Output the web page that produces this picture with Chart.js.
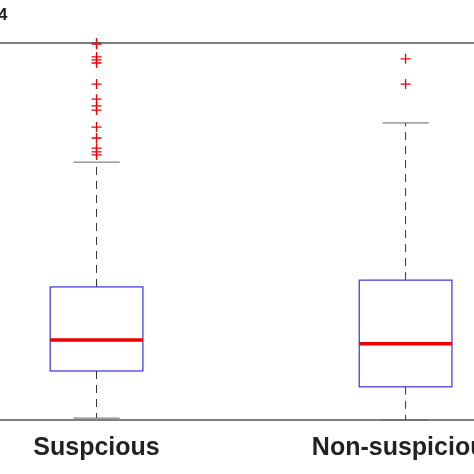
<!DOCTYPE html>
<html><head><meta charset="utf-8">
<script src="https://cdn.jsdelivr.net/npm/chart.js@4"></script>
<style>html,body{margin:0;padding:0;background:#fff}#w{width:474px;height:474px}</style>
</head><body><div id="w"><canvas id="c"></canvas></div>
<script>
const categories = ["Suspcious", "Non-suspicious"];
const q1 = [13.0, 8.8];
const median = [21.2, 20.2];
const q3 = [35.3, 37.1];
const whiskerLow = [0.5, 0];
const whiskerHigh = [68.4, 78.8];
const outliers = [
  [100, 99.7, 96.3, 95.5, 94.7, 89.1, 85.1, 83.3, 82.2, 77.7, 74.8, 72.1, 71.1, 70.3],
  [95.8, 89.1]
];
const outlierPts = [];
outliers.forEach((arr, i) => arr.forEach(v => outlierPts.push({x: i + 1, y: v})));

const boxPlugin = {
  id: 'box',
  afterDatasetsDraw(chart) {
    const ctx = chart.ctx, xs = chart.scales.x, ys = chart.scales.y, a = chart.chartArea;
    ctx.save();
    ctx.strokeStyle = '#555'; ctx.lineWidth = 1.3;
    ctx.beginPath(); ctx.moveTo(0, a.top); ctx.lineTo(chart.width, a.top);
    ctx.moveTo(0, a.bottom); ctx.lineTo(chart.width, a.bottom); ctx.stroke();
    const halfW = xs.getPixelForValue(1.15) - xs.getPixelForValue(1);
    categories.forEach((c, i) => {
      const x = xs.getPixelForValue(i + 1);
      const yq1 = ys.getPixelForValue(q1[i]), yq3 = ys.getPixelForValue(q3[i]);
      const ym = ys.getPixelForValue(median[i]);
      const yl = ys.getPixelForValue(whiskerLow[i]), yh = ys.getPixelForValue(whiskerHigh[i]);
      ctx.setLineDash([8, 6]); ctx.strokeStyle = '#333'; ctx.lineWidth = 1;
      ctx.beginPath(); ctx.moveTo(x, yq3); ctx.lineTo(x, yh); ctx.moveTo(x, yq1); ctx.lineTo(x, yl); ctx.stroke();
      ctx.setLineDash([]); ctx.strokeStyle = '#666';
      ctx.beginPath(); ctx.moveTo(x - halfW / 2, yh); ctx.lineTo(x + halfW / 2, yh);
      ctx.moveTo(x - halfW / 2, yl); ctx.lineTo(x + halfW / 2, yl); ctx.stroke();
      ctx.strokeStyle = '#3333dd'; ctx.lineWidth = 1.2;
      ctx.strokeRect(x - halfW, yq3, 2 * halfW, yq1 - yq3);
      ctx.strokeStyle = '#ee0000'; ctx.lineWidth = 3.5;
      ctx.beginPath(); ctx.moveTo(x - halfW, ym); ctx.lineTo(x + halfW, ym); ctx.stroke();
      ctx.fillStyle = '#222'; ctx.font = 'bold 25px Arial, "Liberation Sans", sans-serif';
      ctx.textAlign = 'center'; ctx.textBaseline = 'middle';
      ctx.fillText(c, x, a.bottom + 28);
    });
    ctx.fillStyle = '#222'; ctx.font = 'bold 17px Arial, "Liberation Sans", sans-serif';
    ctx.textAlign = 'left'; ctx.textBaseline = 'middle';
    ctx.fillText('4', -2, 15);
    ctx.restore();
  }
};

new Chart(document.getElementById('c'), {
  type: 'scatter',
  data: { datasets: [{ data: outlierPts, pointStyle: 'cross', radius: 5, borderColor: '#ee0000', borderWidth: 1.3, backgroundColor: '#ee0000', clip: false }] },
  options: {
    responsive: true, maintainAspectRatio: false, animation: false,
    layout: { padding: { top: 43, bottom: 54, left: 0, right: 0 } },
    plugins: { legend: { display: false }, tooltip: { enabled: false } },
    scales: {
      x: { type: 'linear', min: 0.708, max: 2.201, display: false },
      y: { min: 0, max: 100, display: false }
    }
  },
  plugins: [boxPlugin]
});
</script></body></html>
